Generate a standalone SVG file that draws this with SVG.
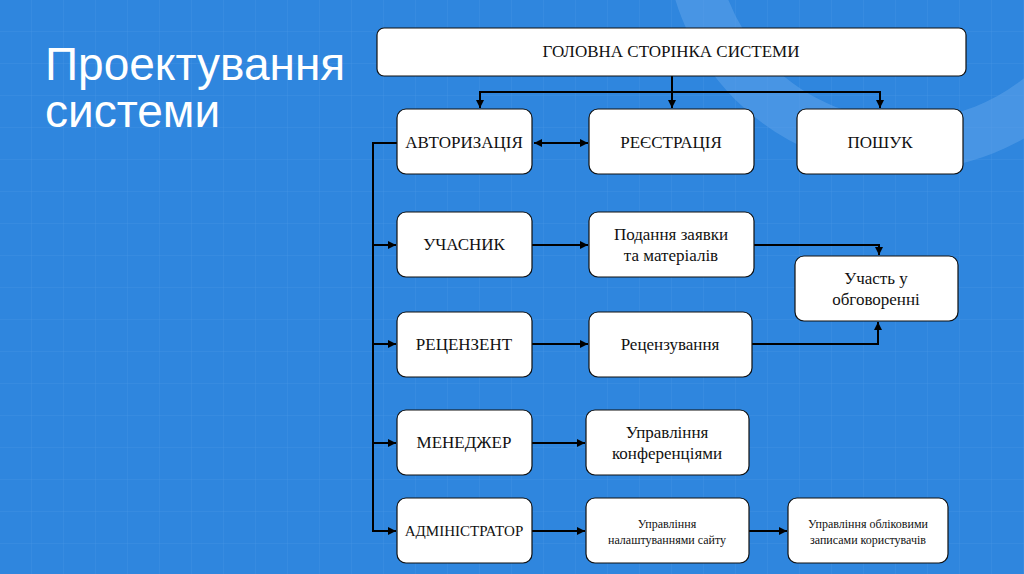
<svg xmlns="http://www.w3.org/2000/svg" width="1024" height="574" viewBox="0 0 1024 574">
<defs>
<pattern id="g" width="32" height="32" patternUnits="userSpaceOnUse"><path d="M32 0V32H0" fill="none" stroke="#4a95e4" stroke-width="0.6"/></pattern>
<marker id="a" viewBox="0 0 10 10" refX="10" refY="5" markerWidth="4" markerHeight="4" orient="auto-start-reverse"><path d="M0 0L10 5L0 10z" fill="#000"/></marker>
</defs>
<style>
.n rect{fill:#fff;stroke:#111;stroke-width:1.2}
.n text{font-family:"Liberation Serif",serif;font-size:17px;fill:#111;text-anchor:middle}
#c path{fill:none;stroke:#000;stroke-width:2;marker-end:url(#a)}
</style>
<rect width="1024" height="574" fill="#2f86de"/>
<rect width="1024" height="574" fill="url(#g)"/>
<circle cx="905" cy="-70" r="215" fill="none" stroke="#5aa0e8" stroke-width="50" opacity="0.6"/>
<text x="45" y="80" font-family="Liberation Sans,sans-serif" font-size="46" fill="#fff">Проектування</text>
<text x="45" y="127" font-family="Liberation Sans,sans-serif" font-size="46" fill="#fff">системи</text>
<g id="c">
<path d="M672 76V92H480V108" />
<path d="M672 92V108"/>
<path d="M672 92H880V108"/>
<path d="M534 143H588" marker-start="url(#a)"/>
<path d="M397 143H373V531H396"/>
<path d="M373 245H396"/><path d="M373 344H396"/><path d="M373 443H396"/>
<path d="M532 245H588"/><path d="M532 344H588"/><path d="M532 443H585"/><path d="M532 531H585"/><path d="M749 531H787"/>
<path d="M754 245H879V255"/>
<path d="M752 344H878V322"/>
</g>
<g id="n0" class="n"><rect x="377" y="28" width="589" height="48" rx="7"/><text x="671" y="57">ГОЛОВНА СТОРІНКА СИСТЕМИ</text></g>
<g id="n1" class="n"><rect x="397" y="109" width="135" height="65" rx="9"/><text x="464" y="148">АВТОРИЗАЦІЯ</text></g>
<g id="n2" class="n"><rect x="589" y="109" width="165" height="65" rx="9"/><text x="671" y="148">РЕЄСТРАЦІЯ</text></g>
<g id="n3" class="n"><rect x="797" y="109" width="166" height="65" rx="9"/><text x="880" y="148">ПОШУК</text></g>
<g id="n4" class="n"><rect x="397" y="212" width="135" height="65" rx="9"/><text x="464" y="250">УЧАСНИК</text></g>
<g id="n5" class="n"><rect x="589" y="212" width="165" height="65" rx="9"/><text x="671" y="240">Подання заявки</text><text x="671" y="261">та матеріалів</text></g>
<g id="n6" class="n"><rect x="795" y="256" width="163" height="65" rx="9"/><text x="876" y="284">Участь у</text><text x="876" y="305">обговоренні</text></g>
<g id="n7" class="n"><rect x="397" y="312" width="135" height="65" rx="9"/><text x="464" y="350">РЕЦЕНЗЕНТ</text></g>
<g id="n8" class="n"><rect x="589" y="312" width="163" height="65" rx="9"/><text x="670" y="350">Рецензування</text></g>
<g id="n9" class="n"><rect x="397" y="410" width="135" height="65" rx="9"/><text x="464" y="448">МЕНЕДЖЕР</text></g>
<g id="n10" class="n"><rect x="586" y="410" width="163" height="65" rx="9"/><text x="667" y="438">Управління</text><text x="667" y="459">конференціями</text></g>
<g id="n11" class="n"><rect x="397" y="498" width="135" height="65" rx="9"/><text x="464" y="536" style="font-size:15px">АДМІНІСТРАТОР</text></g>
<g id="n12" class="n"><rect x="586" y="498" width="163" height="65" rx="9"/><text x="667" y="528" style="font-size:12px">Управління</text><text x="667" y="544" style="font-size:12px">налаштуваннями сайту</text></g>
<g id="n13" class="n"><rect x="788" y="498" width="160" height="65" rx="9"/><text x="868" y="528" style="font-size:12px">Управління обліковими</text><text x="868" y="544" style="font-size:12px">записами користувачів</text></g>
</svg>
